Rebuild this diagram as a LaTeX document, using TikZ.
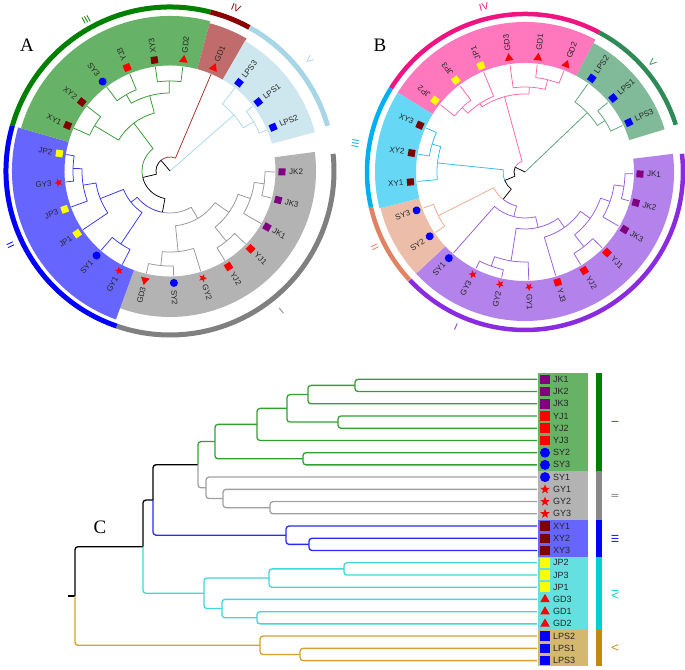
\documentclass[tikz,border=0pt]{standalone}
\usepackage{fontspec}
\setmainfont{Liberation Serif}
\setsansfont{Liberation Sans}
\usetikzlibrary{shapes.geometric}
% symbol colours
\definecolor{sJK}{RGB}{128,0,128}
\definecolor{sYJ}{RGB}{255,0,0}
\definecolor{sSY}{RGB}{0,0,255}
\definecolor{sGY}{RGB}{255,0,0}
\definecolor{sXY}{RGB}{128,0,0}
\definecolor{sJP}{RGB}{255,255,0}
\definecolor{sGD}{RGB}{255,0,0}
\definecolor{sLPS}{RGB}{0,0,255}
% panel A
\definecolor{aGreyF}{RGB}{179,179,179}
\definecolor{aBlueF}{RGB}{102,102,255}
\definecolor{aGreenF}{RGB}{102,178,102}
\definecolor{aBrownF}{RGB}{192,108,108}
\definecolor{aLBF}{RGB}{206,230,238}
\definecolor{aIII}{RGB}{0,128,0}
\definecolor{aIV}{RGB}{139,0,0}
\definecolor{aV}{RGB}{168,214,230}
\definecolor{aI}{RGB}{128,128,128}
\definecolor{aII}{RGB}{0,0,255}
\definecolor{aGreenL}{RGB}{51,153,51}
\definecolor{aBrownL}{RGB}{165,42,42}
\definecolor{aLBL}{RGB}{168,216,232}
\definecolor{aGreyL}{RGB}{150,150,150}
\definecolor{aBlueL}{RGB}{51,51,255}
% panel B
\definecolor{bPinkF}{RGB}{255,120,190}
\definecolor{bGreenF}{RGB}{128,186,152}
\definecolor{bPurpleF}{RGB}{180,130,235}
\definecolor{bPeachF}{RGB}{236,190,170}
\definecolor{bCyanF}{RGB}{102,216,245}
\definecolor{bIV}{RGB}{240,20,130}
\definecolor{bV}{RGB}{46,139,87}
\definecolor{bI}{RGB}{138,43,226}
\definecolor{bII}{RGB}{225,130,100}
\definecolor{bIII}{RGB}{0,176,240}
\definecolor{bPinkL}{RGB}{255,100,170}
\definecolor{bGreenL}{RGB}{90,160,120}
\definecolor{bPurpleL}{RGB}{150,90,225}
\definecolor{bPeachL}{RGB}{235,170,140}
\definecolor{bCyanL}{RGB}{50,185,235}
% panel C
\definecolor{cGreenL}{RGB}{51,160,51}
\definecolor{cGreyL}{RGB}{160,160,160}
\definecolor{cBlueL}{RGB}{40,40,255}
\definecolor{cCyanL}{RGB}{64,216,216}
\definecolor{cGoldL}{RGB}{212,160,48}
\definecolor{cGreenF}{RGB}{102,179,102}
\definecolor{cGreyF}{RGB}{179,179,179}
\definecolor{cBlueF}{RGB}{102,102,255}
\definecolor{cCyanF}{RGB}{100,224,224}
\definecolor{cTanF}{RGB}{212,184,112}
\definecolor{cGreenB}{RGB}{0,128,0}
\definecolor{cGreyB}{RGB}{136,136,136}
\definecolor{cBlueB}{RGB}{0,0,255}
\definecolor{cCyanB}{RGB}{0,208,208}
\definecolor{cGoldB}{RGB}{192,138,16}

\tikzset{
  lab/.style={font=\sffamily\fontsize{8}{8}\selectfont, inner sep=0pt, text=black!85},
  clab/.style={font=\sffamily\fontsize{9}{9}\selectfont, inner sep=0pt, text=black!85},
  symsq/.style={rectangle, fill=#1, minimum size=7pt, inner sep=0pt},
  symci/.style={circle, fill=#1, minimum size=8pt, inner sep=0pt},
  symst/.style={star, star points=5, star point ratio=2.4, fill=#1, minimum size=8.5pt, inner sep=0pt, shape border rotate=-90},
  symtr/.style={regular polygon, regular polygon sides=3, fill=#1, minimum size=10pt, inner sep=0pt, shape border rotate=-90},
  csq/.style={rectangle, fill=#1, minimum size=9.5pt, inner sep=0pt},
  cci/.style={circle, fill=#1, minimum size=10pt, inner sep=0pt},
  cst/.style={star, star points=5, star point ratio=2.4, fill=#1, minimum size=10pt, inner sep=0pt},
  ctr/.style={regular polygon, regular polygon sides=3, fill=#1, minimum size=11pt, inner sep=0pt},
  tl/.style={line width=0.75pt, line join=round},
  cline/.style={line width=1.3pt, rounded corners=3pt},
  roman/.style={font=\sffamily\fontsize{10}{10}\selectfont, inner sep=0pt},
  panel/.style={font=\rmfamily\fontsize{19}{19}\selectfont, inner sep=0pt},
}
% branch: colour, parent radius, parent angle, child angle, child radius
\newcommand\br[5]{\draw[tl,#1] (#3:#2pt) arc[start angle=#3,end angle=#4,radius=#2pt] -- (#4:#5pt);}
% annular sector: colour, a1, a2, rin, rout
\newcommand\sect[5]{\fill[#1] (#2:#4pt) arc[start angle=#2,end angle=#3,radius=#4pt] -- (#3:#5pt) arc[start angle=#3,end angle=#2,radius=#5pt] -- cycle;}
% ring arc: colour, a1, a2, radius, width
\newcommand\ringarc[5]{\draw[#1, line width=#5pt] (#2:#4pt) arc[start angle=#2,end angle=#3,radius=#4pt];}
% leaf, outward text
\newcommand\lfo[5]{%
  \node[#4=#5, rotate=#2] (#1) at (#2:\rs) {};
  \node[lab, rotate=#2, anchor=west] (#1t) at (#2:\rl) {#3};}
% leaf, flipped text
\newcommand\lfi[5]{%
  \node[#4=#5, rotate=#2] (#1) at (#2:\rs) {};
  \node[lab, rotate=#2+180, anchor=east] (#1t) at (#2:\rl) {#3};}
% panel C leaf
\newcommand\cleaf[5]{%
  \coordinate (#1) at (537,#2);
  \node[#4=#5] (#1s) at (545,#2) {};
  \node[clab, anchor=west] (#1t) at (553,#2) {#3};}
\newcommand\ce[3]{\draw[cline,#1] (#2) |- (#3);}

\begin{document}
\begin{tikzpicture}[x=1pt,y=1pt]
\useasboundingbox (0,0) rectangle (685,669);
\fill[white] (0,0) rectangle (685,669);

% ================= PANEL A =================
\begin{scope}[shift={(170,498)}]
  \sect{aGreyF}{-110}{7.5}{105.5}{146}
  \sect{aBlueF}{164}{250}{105.5}{158}
  \sect{aGreenF}{75}{164}{105.5}{155}
  \sect{aBrownF}{60}{75}{105.5}{153}
  \sect{aLBF}{15}{60}{105.5}{150}
  \ringarc{aIII}{75.7}{164}{164}{5}
  \ringarc{aIV}{61}{75.7}{164}{5}
  \ringarc{aV}{16}{61}{164}{5}
  \ringarc{aI}{-109}{6}{164}{5}
  \ringarc{aII}{164}{251}{164}{5}
  % root
  \coordinate (aroot) at (0,0);
  \draw[tl,aLBL] (aroot) -- (41.25:85pt);
  \draw[tl,black] (aroot) -- (130.2:14pt);
  % LPS clade
  \br{aLBL}{85}{41.25}{52}{105}
  \br{aLBL}{85}{41.25}{30.5}{97}
  \br{aLBL}{97}{30.5}{38}{105}
  \br{aLBL}{97}{30.5}{23}{105}
  % N1, N2, Q
  \br{aBrownL}{14}{130.2}{67}{105}
  \br{black}{14}{130.2}{193.3}{28}
  \br{aGreenL}{28}{193.3}{127.05}{60}
  \br{black}{28}{193.3}{259.6}{42}
  \br{aBlueL}{42}{259.6}{218.8}{50}
  \br{aGreyL}{42}{259.6}{300.3}{55}
  % grey clade
  \br{aGreyL}{55}{300.3}{324.9}{72}
  \br{aGreyL}{55}{300.3}{275.75}{81}
  \br{aGreyL}{72}{324.9}{341.1}{85}
  \br{aGreyL}{72}{324.9}{308.75}{90}
  \br{aGreyL}{85}{341.1}{352.25}{95}
  \br{aGreyL}{85}{341.1}{330}{105}
  \br{aGreyL}{95}{352.25}{359.5}{105}
  \br{aGreyL}{95}{352.25}{345}{105}
  \br{aGreyL}{90}{308.75}{316}{105}
  \br{aGreyL}{90}{308.75}{301.5}{105}
  \br{aGreyL}{81}{275.75}{287}{105}
  \br{aGreyL}{81}{275.75}{264.5}{95}
  \br{aGreyL}{95}{264.5}{272}{105}
  \br{aGreyL}{95}{264.5}{257}{105}
  % blue clade
  \br{aBlueL}{50}{218.8}{201.6}{75}
  \br{aBlueL}{50}{218.8}{236}{88}
  \br{aBlueL}{88}{236}{243}{105}
  \br{aBlueL}{88}{236}{229}{105}
  \br{aBlueL}{75}{201.6}{189.25}{88}
  \br{aBlueL}{75}{201.6}{214}{105}
  \br{aBlueL}{88}{189.25}{178.5}{97}
  \br{aBlueL}{88}{189.25}{200}{105}
  \br{aBlueL}{97}{178.5}{171}{105}
  \br{aBlueL}{97}{178.5}{186}{105}
  % green clade
  \br{aGreenL}{60}{127.05}{149}{88}
  \br{aGreenL}{60}{127.05}{105.1}{78}
  \br{aGreenL}{88}{149}{156}{105}
  \br{aGreenL}{88}{149}{142}{105}
  \br{aGreenL}{78}{105.1}{119.75}{88}
  \br{aGreenL}{78}{105.1}{90.5}{90}
  \br{aGreenL}{88}{119.75}{127}{105}
  \br{aGreenL}{88}{119.75}{112.5}{105}
  \br{aGreenL}{90}{90.5}{98}{105}
  \br{aGreenL}{90}{90.5}{83}{105}
  % leaves
  \def\rs{112pt}\def\rl{119pt}
  \lfo{aGD1}{67}{GD1}{symtr}{sGD}
  \lfo{aLPS3}{52}{LPS3}{symsq}{sLPS}
  \lfo{aLPS1}{38}{LPS1}{symsq}{sLPS}
  \lfo{aLPS2}{23}{LPS2}{symsq}{sLPS}
  \lfo{aJK2}{359.5}{JK2}{symsq}{sJK}
  \lfo{aJK3}{345}{JK3}{symsq}{sJK}
  \lfo{aJK1}{330}{JK1}{symsq}{sJK}
  \lfo{aYJ1}{316}{YJ1}{symsq}{sYJ}
  \lfo{aYJ2}{301.5}{YJ2}{symsq}{sYJ}
  \lfo{aGY2}{287}{GY2}{symst}{sGY}
  \lfo{aSY2}{272}{SY2}{symci}{sSY}
  \lfi{aGD3}{257}{GD3}{symtr}{sGD}
  \lfi{aGY1}{243}{GY1}{symst}{sGY}
  \lfi{aSY1}{229}{SY1}{symci}{sSY}
  \lfi{aJP1}{214}{JP1}{symsq}{sJP}
  \lfi{aJP3}{200}{JP3}{symsq}{sJP}
  \lfi{aGY3}{186}{GY3}{symst}{sGY}
  \lfi{aJP2}{171}{JP2}{symsq}{sJP}
  \lfi{aXY1}{156}{XY1}{symsq}{sXY}
  \lfi{aXY2}{142}{XY2}{symsq}{sXY}
  \lfi{aSY3}{127}{SY3}{symci}{sSY}
  \lfo{aYJ3}{112.5}{YJ3}{symsq}{sYJ}
  \lfo{aXY3}{98}{XY3}{symsq}{sXY}
  \lfo{aGD2}{83}{GD2}{symtr}{sGD}
  % group numerals
  \node[roman, text=aIII, rotate=29] (aN3) at (119:173pt) {III};
  \node[roman, text=aIV, rotate=-22] (aN4) at (68:176pt) {IV};
  \node[roman, text=aV, rotate=-51.6] (aN5) at (38.4:178pt) {V};
  \node[roman, text=aI, rotate=-141.5] (aN1) at (-51.5:179pt) {I};
  \node[roman, text=aII, rotate=115] (aN2) at (205:176pt) {II};
\end{scope}
\node[panel] (pA) at (27,624) {A};

% ================= PANEL B =================
\begin{scope}[shift={(525,497)}]
  \sect{bPinkF}{62}{148}{109}{150}
  \sect{bGreenF}{17}{62}{109}{146}
  \sect{bPurpleF}{-137}{7}{109}{149}
  \sect{bPeachF}{194}{223}{109}{149}
  \sect{bCyanF}{148}{194}{109}{150}
  \ringarc{bIV}{62}{148}{158}{4.5}
  \ringarc{bV}{17.4}{62}{158}{4.5}
  \ringarc{bI}{-136.8}{6.6}{158}{4.5}
  \ringarc{bII}{193}{223}{158}{4.5}
  \ringarc{bIII}{148}{193}{158}{4.5}
  % root
  \coordinate (broot) at (0,0);
  \draw[tl,bGreenL] (broot) -- (43.6:86pt);
  \draw[tl,black] (broot) -- (154:11pt);
  \br{bPinkL}{11}{154}{105.25}{78}
  \br{black}{11}{154}{202.7}{22}
  \br{bCyanL}{22}{202.7}{174.1}{88}
  \br{black}{22}{202.7}{231.3}{35}
  \br{bPeachL}{35}{231.3}{206.75}{97}
  \br{bPurpleL}{35}{231.3}{255.9}{46}
  % purple clade
  \br{bPurpleL}{46}{255.9}{228.5}{108}
  \br{bPurpleL}{46}{255.9}{283.3}{57}
  \br{bPurpleL}{57}{283.3}{261.1}{90}
  \br{bPurpleL}{57}{283.3}{305.5}{68}
  \br{bPurpleL}{90}{261.1}{272}{108}
  \br{bPurpleL}{90}{261.1}{250.25}{100}
  \br{bPurpleL}{100}{250.25}{257.5}{108}
  \br{bPurpleL}{100}{250.25}{243}{108}
  \br{bPurpleL}{68}{305.5}{324.6}{80}
  \br{bPurpleL}{68}{305.5}{286.5}{108}
  \br{bPurpleL}{80}{324.6}{340.9}{90}
  \br{bPurpleL}{80}{324.6}{308.25}{95}
  \br{bPurpleL}{90}{340.9}{351.75}{100}
  \br{bPurpleL}{90}{340.9}{330}{108}
  \br{bPurpleL}{100}{351.75}{359}{108}
  \br{bPurpleL}{100}{351.75}{344.5}{108}
  \br{bPurpleL}{95}{308.25}{315.5}{108}
  \br{bPurpleL}{95}{308.25}{301}{108}
  % peach clade
  \br{bPeachL}{97}{206.75}{214}{108}
  \br{bPeachL}{97}{206.75}{199.5}{108}
  % cyan clade
  \br{bCyanL}{88}{174.1}{185}{108}
  \br{bCyanL}{88}{174.1}{163.25}{97}
  \br{bCyanL}{97}{163.25}{170.5}{108}
  \br{bCyanL}{97}{163.25}{156}{108}
  % pink clade
  \br{bPinkL}{78}{105.25}{123.4}{82}
  \br{bPinkL}{78}{105.25}{87.1}{85}
  \br{bPinkL}{82}{123.4}{134.25}{90}
  \br{bPinkL}{82}{123.4}{112.5}{108}
  \br{bPinkL}{90}{134.25}{141.5}{108}
  \br{bPinkL}{90}{134.25}{127}{108}
  \br{bPinkL}{85}{87.1}{98}{108}
  \br{bPinkL}{85}{87.1}{76.25}{95}
  \br{bPinkL}{95}{76.25}{83.5}{108}
  \br{bPinkL}{95}{76.25}{69}{108}
  % green clade
  \br{bGreenL}{86}{43.6}{54.5}{108}
  \br{bGreenL}{86}{43.6}{32.75}{95}
  \br{bGreenL}{95}{32.75}{40}{108}
  \br{bGreenL}{95}{32.75}{25.5}{108}
  % leaves
  \def\rs{115pt}\def\rl{122pt}
  \lfo{bLPS2}{54.5}{LPS2}{symsq}{sLPS}
  \lfo{bLPS1}{40}{LPS1}{symsq}{sLPS}
  \lfo{bLPS3}{25.5}{LPS3}{symsq}{sLPS}
  \lfo{bJK1}{359}{JK1}{symsq}{sJK}
  \lfo{bJK2}{344.5}{JK2}{symsq}{sJK}
  \lfo{bJK3}{330}{JK3}{symsq}{sJK}
  \lfo{bYJ1}{315.5}{YJ1}{symsq}{sYJ}
  \lfo{bYJ2}{301}{YJ2}{symsq}{sYJ}
  \lfo{bYJ3}{286.5}{YJ3}{symsq}{sYJ}
  \lfo{bGY1}{272}{GY1}{symst}{sGY}
  \lfi{bGY2}{257.5}{GY2}{symst}{sGY}
  \lfi{bGY3}{243}{GY3}{symst}{sGY}
  \lfi{bSY1}{228.5}{SY1}{symci}{sSY}
  \lfi{bSY2}{214}{SY2}{symci}{sSY}
  \lfi{bSY3}{199.5}{SY3}{symci}{sSY}
  \lfi{bXY1}{185}{XY1}{symsq}{sXY}
  \lfi{bXY2}{170.5}{XY2}{symsq}{sXY}
  \lfi{bXY3}{156}{XY3}{symsq}{sXY}
  \lfo{bJP2}{141.5}{JP2}{symsq}{sJP}
  \lfo{bJP3}{127}{JP3}{symsq}{sJP}
  \lfo{bJP1}{112.5}{JP1}{symsq}{sJP}
  \lfo{bGD3}{98}{GD3}{symtr}{sGD}
  \lfo{bGD1}{83.5}{GD1}{symtr}{sGD}
  \lfo{bGD2}{69}{GD2}{symtr}{sGD}
  % numerals
  \node[roman, text=bIV, rotate=14] (bN4) at (104:170pt) {IV};
  \node[roman, text=bV, rotate=-49.3] (bN5) at (40.7:168pt) {V};
  \node[roman, text=bI, rotate=-204] (bN1) at (-114:170pt) {I};
  \node[roman, text=bII, rotate=116.6] (bN2) at (206.6:168pt) {II};
  \node[roman, text=bIII, rotate=80.5] (bN3) at (170.5:172pt) {III};
\end{scope}
\node[panel] (pB) at (380,624) {B};

% ================= PANEL C =================
\begin{scope}[shift={(0,669)}, yscale=-1]
  \fill[cGreenF] (538,373) rectangle (588,471);
  \fill[cGreyF]  (538,471) rectangle (588,520);
  \fill[cBlueF]  (538,520) rectangle (588,557);
  \fill[cCyanF]  (538,557) rectangle (588,630);
  \fill[cTanF]   (538,630) rectangle (588,666);
  \fill[cGreenB] (596,373) rectangle (602,471);
  \fill[cGreyB]  (596,471) rectangle (602,520);
  \fill[cBlueB]  (596,520) rectangle (602,557);
  \fill[cCyanB]  (596,557) rectangle (602,630);
  \fill[cGoldB]  (596,630) rectangle (602,666);
  % leaves
  \cleaf{cJK1}{379.3}{JK1}{csq}{sJK}
  \cleaf{cJK2}{391.5}{JK2}{csq}{sJK}
  \cleaf{cJK3}{403.8}{JK3}{csq}{sJK}
  \cleaf{cYJ1}{416.0}{YJ1}{csq}{sYJ}
  \cleaf{cYJ2}{428.2}{YJ2}{csq}{sYJ}
  \cleaf{cYJ3}{440.5}{YJ3}{csq}{sYJ}
  \cleaf{cSY2}{452.7}{SY2}{cci}{sSY}
  \cleaf{cSY3}{464.9}{SY3}{cci}{sSY}
  \cleaf{cSY1}{477.1}{SY1}{cci}{sSY}
  \cleaf{cGY1}{489.4}{GY1}{cst}{sGY}
  \cleaf{cGY2}{501.6}{GY2}{cst}{sGY}
  \cleaf{cGY3}{513.8}{GY3}{cst}{sGY}
  \cleaf{cXY1}{526.1}{XY1}{csq}{sXY}
  \cleaf{cXY2}{538.3}{XY2}{csq}{sXY}
  \cleaf{cXY3}{550.5}{XY3}{csq}{sXY}
  \cleaf{cJP2}{562.8}{JP2}{csq}{sJP}
  \cleaf{cJP3}{575.0}{JP3}{csq}{sJP}
  \cleaf{cJP1}{587.2}{JP1}{csq}{sJP}
  \cleaf{cGD3}{599.4}{GD3}{ctr}{sGD}
  \cleaf{cGD1}{611.7}{GD1}{ctr}{sGD}
  \cleaf{cGD2}{623.9}{GD2}{ctr}{sGD}
  \cleaf{cLPS2}{636.1}{LPS2}{csq}{sLPS}
  \cleaf{cLPS1}{648.4}{LPS1}{csq}{sLPS}
  \cleaf{cLPS3}{660.6}{LPS3}{csq}{sLPS}
  % internal nodes
  \coordinate (jk12) at (355,385.4);
  \coordinate (jk) at (308,394.6);
  \coordinate (yj12) at (338,422.1);
  \coordinate (jkyj) at (287,408.4);
  \coordinate (jyy) at (257,424.4);
  \coordinate (sy23) at (303,458.8);
  \coordinate (gI) at (215,441.6);
  \coordinate (gy23) at (270,507.7);
  \coordinate (gy) at (223,498.5);
  \coordinate (gII) at (206,487.8);
  \coordinate (a3) at (198,464.7);
  \coordinate (xy23) at (309,544.4);
  \coordinate (gIII) at (286,535.2);
  \coordinate (a2) at (153,500);
  \coordinate (jp23) at (344,568.9);
  \coordinate (jp) at (269,578);
  \coordinate (gd12) at (257,617.8);
  \coordinate (gd) at (222,608.6);
  \coordinate (gIV) at (204,593.3);
  \coordinate (a1) at (143,546.7);
  \coordinate (lps13) at (300,654.5);
  \coordinate (gV) at (260,645.3);
  \coordinate (croot) at (75,596);
  \coordinate (cstub) at (68,596);
  % edges
  \draw[cline,black] (cstub) -- (croot);
  \ce{black}{croot}{a1}
  \ce{black}{a1}{a2}
  \ce{black}{a2}{a3}
  \ce{cGoldL}{croot}{gV}
  \ce{cCyanL}{a1}{gIV}
  \ce{cBlueL}{a2}{gIII}
  \ce{cGreenL}{a3}{gI}
  \ce{cGreyL}{a3}{gII}
  % group I
  \ce{cGreenL}{gI}{jyy}
  \ce{cGreenL}{gI}{sy23}
  \ce{cGreenL}{jyy}{jkyj}
  \ce{cGreenL}{jyy}{cYJ3}
  \ce{cGreenL}{jkyj}{jk}
  \ce{cGreenL}{jkyj}{yj12}
  \ce{cGreenL}{jk}{jk12}
  \ce{cGreenL}{jk}{cJK3}
  \ce{cGreenL}{jk12}{cJK1}
  \ce{cGreenL}{jk12}{cJK2}
  \ce{cGreenL}{yj12}{cYJ1}
  \ce{cGreenL}{yj12}{cYJ2}
  \ce{cGreenL}{sy23}{cSY2}
  \ce{cGreenL}{sy23}{cSY3}
  % group II
  \ce{cGreyL}{gII}{cSY1}
  \ce{cGreyL}{gII}{gy}
  \ce{cGreyL}{gy}{cGY1}
  \ce{cGreyL}{gy}{gy23}
  \ce{cGreyL}{gy23}{cGY2}
  \ce{cGreyL}{gy23}{cGY3}
  % group III
  \ce{cBlueL}{gIII}{cXY1}
  \ce{cBlueL}{gIII}{xy23}
  \ce{cBlueL}{xy23}{cXY2}
  \ce{cBlueL}{xy23}{cXY3}
  % group IV
  \ce{cCyanL}{gIV}{jp}
  \ce{cCyanL}{gIV}{gd}
  \ce{cCyanL}{jp}{jp23}
  \ce{cCyanL}{jp}{cJP1}
  \ce{cCyanL}{jp23}{cJP2}
  \ce{cCyanL}{jp23}{cJP3}
  \ce{cCyanL}{gd}{cGD3}
  \ce{cCyanL}{gd}{gd12}
  \ce{cCyanL}{gd12}{cGD1}
  \ce{cCyanL}{gd12}{cGD2}
  % group V
  \ce{cGoldL}{gV}{cLPS2}
  \ce{cGoldL}{gV}{lps13}
  \ce{cGoldL}{lps13}{cLPS1}
  \ce{cGoldL}{lps13}{cLPS3}
  % numerals
  \node[roman, text=cGreenB, rotate=-90] (cN1) at (615,422) {I};
  \node[roman, text=cGreyB, rotate=-90] (cN2) at (615,496) {II};
  \node[roman, text=cBlueB, rotate=-90] (cN3) at (615,539) {III};
  \node[roman, text=cCyanB, rotate=-90] (cN4) at (615,594) {IV};
  \node[roman, text=cGoldB, rotate=-90] (cN5) at (615,648) {V};
  \node[panel] (pC) at (100,527) {C};
\end{scope}
\end{tikzpicture}
\end{document}
